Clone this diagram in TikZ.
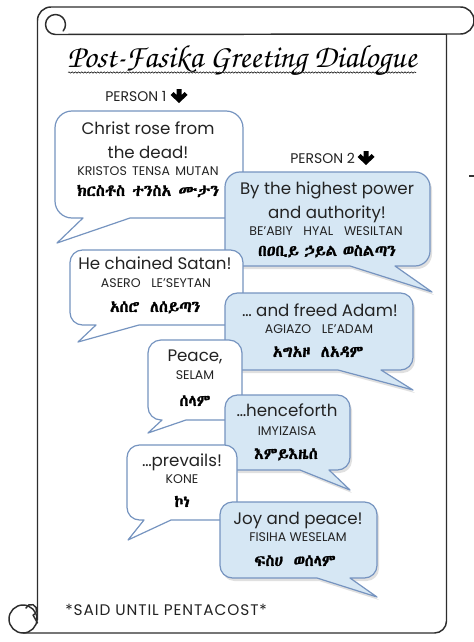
\documentclass[tikz,border=0pt]{standalone}
\usepackage{fontspec}
\setmainfont{Poppins}
\usetikzlibrary{decorations.pathmorphing}
\IfFontExistsTF{Abyssinica SIL}{\newfontfamily\amh{Abyssinica SIL}[Script=Ethiopic,FakeBold=1.5]}{%
 \IfFontExistsTF{Noto Sans Ethiopic}{\newfontfamily\amh{Noto Sans Ethiopic}[Script=Ethiopic]}{%
  \IfFontExistsTF{Noto Serif Ethiopic}{\newfontfamily\amh{Noto Serif Ethiopic}[Script=Ethiopic]}{%
   \IfFontExistsTF{FreeSerif}{\newfontfamily\amh{FreeSerif}}{\newfontfamily\amh{DejaVu Sans}}}}}
\IfFontExistsTF{texgyrechorus-mediumitalic.otf}{\newfontfamily\titlefont{texgyrechorus-mediumitalic.otf}}{\newfontfamily\titlefont{Latin Modern Roman}[ItalicFont=*,]}
\newfontfamily\spacedfont{Poppins}[LetterSpace=6]
\definecolor{bord}{RGB}{118,148,192}
\definecolor{bluefill}{RGB}{214,231,244}
\definecolor{ink}{RGB}{35,35,35}
\definecolor{scrollcol}{RGB}{45,45,45}
\newcommand\br{12}
\newcommand\bubble[9]{%
 \path[#9] ({#1+\br},#2) -- ({#3-\br},#2) arc[start angle=270,end angle=360,radius=\br]
 -- (#3,{#4-\br}) arc[start angle=0,end angle=90,radius=\br]
 -- (#6,#4) -- (#7,#8) -- (#5,#4)
 -- ({#1+\br},#4) arc[start angle=90,end angle=180,radius=\br]
 -- (#1,{#2+\br}) arc[start angle=180,end angle=270,radius=\br] -- cycle;}
\newcommand\bluebubble[8]{%
 \bubble{#1}{#2}{#3}{#4}{#5}{#6}{#7}{#8}{fill=black,opacity=0.12,shift={(2,3)}}%
 \bubble{#1}{#2}{#3}{#4}{#5}{#6}{#7}{#8}{fill=bluefill,draw=bord,line width=0.9pt,line join=round}}
\newcommand\whitebubble[8]{%
 \bubble{#1}{#2}{#3}{#4}{#5}{#6}{#7}{#8}{fill=white,draw=bord,line width=0.9pt,line join=round}}
\tikzset{
 mainline/.style={anchor=base,inner sep=0,text=ink,font=\fontsize{12.5}{14}\selectfont},
 capsline/.style={anchor=base,inner sep=0,text=ink,font=\fontsize{9.4}{11}\selectfont},
 amhline/.style={anchor=base,inner sep=0,text=black,font=\amh\bfseries\fontsize{12}{14}\selectfont},
 scrollline/.style={draw=scrollcol,line width=1.1pt,line join=round,line cap=round},
 downarrow/.style={fill=black},
 label/.style={anchor=base west,inner sep=0,text=ink,font=\fontsize{10.5}{12}\selectfont},
}
\newcommand\wsp{\hspace{4pt}}
\begin{document}
\begin{tikzpicture}[x=0.75pt,y=-0.75pt]
\useasboundingbox (0,0) rectangle (474,642);
\fill[white] (0,0) rectangle (474,642);
% scroll
\draw[scrollline] (37.5,620) -- (37.5,20.5) arc[start angle=180,end angle=270,radius=13.5]
  -- (460.5,7) arc[start angle=270,end angle=450,radius=13.5] -- (55.5,34.5)
  arc[start angle=90,end angle=400,radius=10];
\draw[scrollline] (446.5,34.5) -- (446.5,621) arc[start angle=0,end angle=90,radius=12] -- (23,633);
\draw[scrollline] (23,619) circle[radius=14];
\draw[scrollline] (26,608) arc[start angle=200,end angle=430,radius=5.5] -- (37.5,623);
% edge marks of the next page
\draw[line width=0.8pt,black!80] (469,176) -- (474,176);
% title
\node[anchor=base,inner sep=0] (title) at (242,68) {\resizebox{261.75pt}{!}{\titlefont Post-Fasika Greeting Dialogue}};
\coordinate (ulA) at (68,72.5);
\coordinate (ulB) at (416,72.5);
\draw[line width=0.4pt,decorate,decoration={snake,amplitude=0.5pt,segment length=2.4pt}] (ulA) -- (ulB);
% person labels
\node[label] (p1) at (105,102) {PERSON 1};
\fill[downarrow] (176.5,89) -- (181.5,89) -- (181.5,95) -- (184.5,92) -- (187.5,95) -- (179,103) -- (170.5,95) -- (173.5,92) -- (176.5,95) -- cycle;
\node[label] (p2) at (290,163) {PERSON 2};
\fill[downarrow] (363.5,151) -- (368.5,151) -- (368.5,157) -- (371.5,154) -- (374.5,157) -- (366,165) -- (357.5,157) -- (360.5,154) -- (363.5,157) -- cycle;
% bubble 1 (person 1)
\renewcommand\br{17}
\whitebubble{55}{111}{243}{218}{83}{130}{57}{243}
\node[mainline] (t1a) at (148,134) {Christ rose from};
\node[mainline] (t1b) at (148,158) {the dead!};
\node[capsline] (t1c) at (148,175) {KRISTOS\wsp TENSA\wsp MUTAN};
\node[amhline] (t1d) at (148,196) {ክርስቶስ ተንስአ ሙታን};
% bubble 2 (person 2)
\renewcommand\br{15}
\bluebubble{225}{172}{430}{266}{350}{395}{432}{292}
\node[mainline] (t2a) at (327,194) {By the highest power};
\node[mainline] (t2b) at (327,218) {and authority!};
\node[capsline] (t2c) at (326,235) {BE’ABIY\wsp\wsp HYAL\wsp\wsp WESILTAN};
\node[amhline] (t2d) at (327,256) {በዐቢይ\wsp ኃይል\wsp ወስልጣን};
% bubble 3
\renewcommand\br{12.5}
\whitebubble{70}{250}{243}{325}{96}{139}{78}{342}
\node[mainline] (t3a) at (155,269) {He chained Satan!};
\node[capsline] (t3b) at (156,287) {ASERO\wsp\wsp LE’SEYTAN};
\node[amhline] (t3c) at (155,312) {አሰሮ\wsp\wsp ለሰይጣን};
% bubble 4
\bluebubble{225}{293}{413}{370}{338}{381}{413}{390}
\node[mainline] (t4a) at (320,316) {… and freed Adam!};
\node[capsline] (t4b) at (319,333) {AGIAZO\wsp\wsp LE’ADAM};
\node[amhline] (t4c) at (318,357) {አግአዞ\wsp\wsp ለአዳም};
% bubble 5
\renewcommand\br{13}
\whitebubble{148}{340}{242}{420}{162}{186}{148}{433}
\node[mainline] (t5a) at (195,361) {Peace,};
\node[capsline] (t5b) at (195,379) {SELAM};
\node[amhline] (t5c) at (195,406) {ሰላም};
% bubble 6
\renewcommand\br{12.5}
\bluebubble{225}{395}{350}{470}{300}{329}{350}{490}
\node[mainline] (t6a) at (287,416) {…henceforth};
\node[capsline] (t6b) at (287,435) {IMYIZAISA};
\node[amhline] (t6c) at (286,459) {እምይእዜሰ};
% bubble 7
\whitebubble{127}{445}{237}{520}{144}{171}{128}{540}
\node[mainline] (t7a) at (182,466) {…prevails!};
\node[capsline] (t7b) at (182,483) {KONE};
\node[amhline] (t7c) at (182,507) {ኮነ};
% bubble 8
\bluebubble{220}{502}{377}{578}{317}{350}{377}{597}
\node[mainline] (t8a) at (298,524) {Joy and peace!};
\node[capsline] (t8b) at (298,541) {FISIHA WESELAM};
\node[amhline] (t8c) at (295,566) {ፍስሀ\wsp\wsp ወሰላም};
% footer
\node[anchor=base west,inner sep=0,text=ink,font=\spacedfont\fontsize{11.5}{13}\selectfont] (foot) at (65,615) {*SAID UNTIL PENTACOST*};
\end{tikzpicture}
\end{document}
